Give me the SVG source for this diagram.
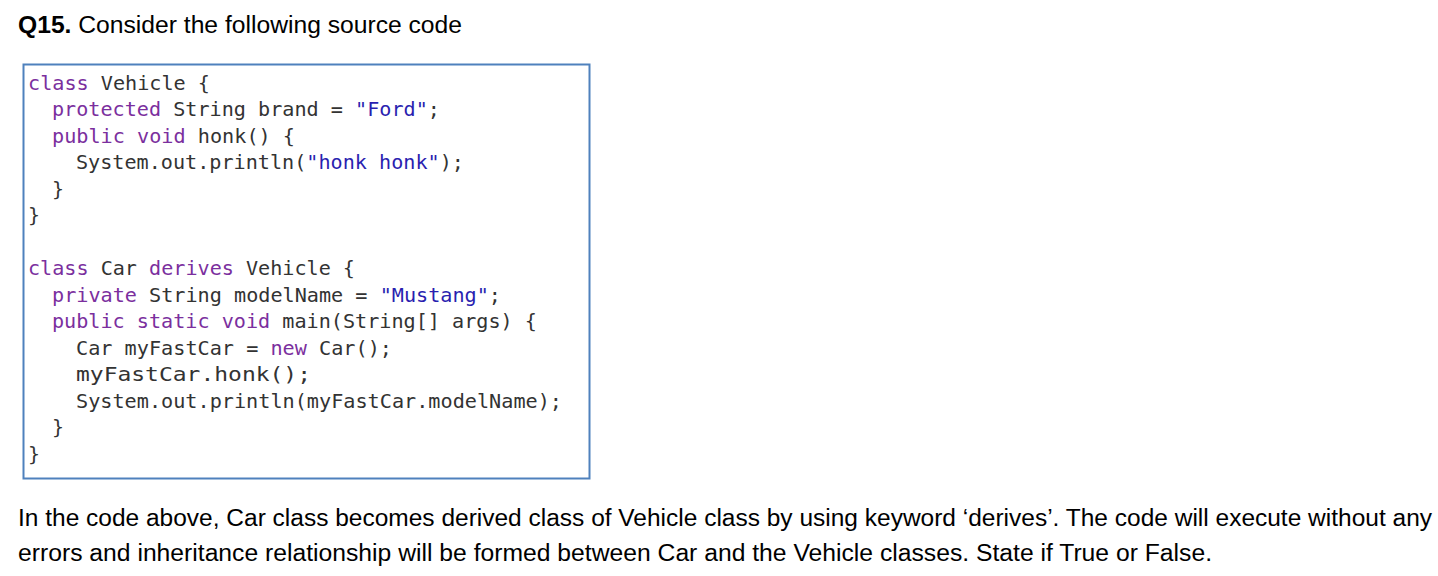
<svg xmlns="http://www.w3.org/2000/svg" width="1438" height="576" viewBox="0 0 1438 576">
<style>
.t{font-family:"Liberation Sans",Arial,sans-serif;font-size:23px;fill:#000}
.c{font-family:"DejaVu Sans Mono","Liberation Mono",monospace;font-size:20px;fill:#333}
.k{fill:#7b2f9e}
.s{fill:#2a1fb0}
</style>
<rect width="1438" height="576" fill="#fff"/>
<text class="t" x="18" y="33" textLength="444" lengthAdjust="spacingAndGlyphs"><tspan font-weight="bold">Q15.</tspan> Consider the following source code</text>
<rect x="23.5" y="64.5" width="566" height="414" fill="#fff" stroke="#4f81bd" stroke-width="2"/>
<g class="c">
<text x="28" y="90" textLength="182" lengthAdjust="spacingAndGlyphs"><tspan class="k">class</tspan> Vehicle {</text>
<text x="52" y="116" textLength="388" lengthAdjust="spacingAndGlyphs"><tspan class="k">protected</tspan> String brand = <tspan class="s">"Ford"</tspan>;</text>
<text x="52" y="143" textLength="243" lengthAdjust="spacingAndGlyphs"><tspan class="k">public</tspan> <tspan class="k">void</tspan> honk() {</text>
<text x="76" y="169" textLength="388" lengthAdjust="spacingAndGlyphs">System.out.println(<tspan class="s">"honk honk"</tspan>);</text>
<text x="52" y="196">}</text>
<text x="28" y="222">}</text>
<text x="28" y="275" textLength="327" lengthAdjust="spacingAndGlyphs"><tspan class="k">class</tspan> Car <tspan class="k">derives</tspan> Vehicle {</text>
<text x="52" y="302" textLength="449" lengthAdjust="spacingAndGlyphs"><tspan class="k">private</tspan> String modelName = <tspan class="s">"Mustang"</tspan>;</text>
<text x="52" y="328" textLength="485" lengthAdjust="spacingAndGlyphs"><tspan class="k">public</tspan> <tspan class="k">static</tspan> <tspan class="k">void</tspan> main(String[] args) {</text>
<text x="76" y="355" textLength="316" lengthAdjust="spacingAndGlyphs">Car myFastCar = <tspan class="k">new</tspan> Car();</text>
<text x="76" y="381" textLength="235" lengthAdjust="spacingAndGlyphs">myFastCar.honk();</text>
<text x="76" y="408" textLength="486" lengthAdjust="spacingAndGlyphs">System.out.println(myFastCar.modelName);</text>
<text x="52" y="434">}</text>
<text x="28" y="461">}</text>
</g>
<text class="t" x="18" y="526" textLength="1414" lengthAdjust="spacingAndGlyphs">In the code above, Car class becomes derived class of Vehicle class by using keyword ‘derives’. The code will execute without any</text>
<text class="t" x="18" y="561" textLength="1194" lengthAdjust="spacingAndGlyphs">errors and inheritance relationship will be formed between Car and the Vehicle classes. State if True or False.</text>
</svg>
